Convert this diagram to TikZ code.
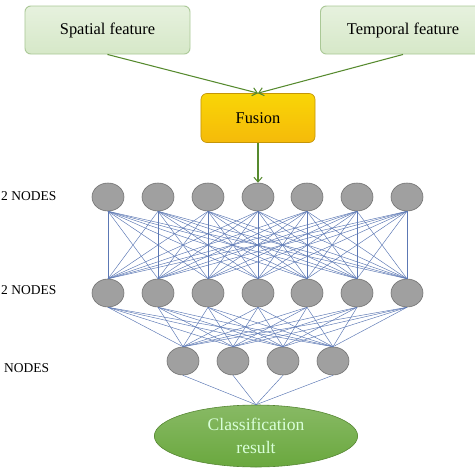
\documentclass[tikz,border=0pt]{standalone}
\usepackage{fontspec}
\setmainfont{Liberation Serif}
\usepackage{tikz}
\usetikzlibrary{shapes,arrows,arrows.meta,positioning}
\definecolor{leaf}{RGB}{214, 232, 200}
\definecolor{leafedge}{RGB}{170, 200, 150}
\definecolor{amber}{RGB}{245, 186, 10}
\definecolor{grass}{RGB}{106, 168, 62}
\definecolor{arrowgreen}{RGB}{86, 138, 46}
\definecolor{netblue}{RGB}{92, 120, 180}
\definecolor{neuron}{RGB}{160, 160, 160}
\tikzstyle{feature} = [rectangle, rounded corners=5pt, draw=leafedge, line width=0.8pt, top color=leaf!60, bottom color=leaf, text=black, text centered, font=\fontsize{14}{16}\selectfont, minimum width=4.95cm, minimum height=1.44cm]
\tikzstyle{fuse} = [rectangle, rounded corners=5pt, draw=amber!80!black, line width=0.6pt, top color=amber!60!yellow, bottom color=amber, text=black, text centered, font=\fontsize{14}{16}\selectfont, minimum width=3.42cm, minimum height=1.47cm]
\tikzstyle{unit} = [ellipse, draw=neuron!70!black, line width=0.5pt, fill=neuron, inner sep=0pt, minimum width=0.96cm, minimum height=0.84cm]
\tikzstyle{output} = [ellipse, draw=grass!80!black, line width=0.5pt, top color=grass!80, bottom color=grass, text=white!85!green, text centered, align=center, font=\fontsize{15}{19}\selectfont, minimum width=6.1cm, minimum height=1.86cm]
\tikzstyle{textonly} = [draw=none, fill=none, anchor=west, inner sep=0pt, font=\fontsize{11.5}{13}\selectfont]
\tikzstyle{tedge}  = [draw, line width=0.9pt, color=arrowgreen, -{Straight Barb[length=4pt,width=7pt]}]
\tikzstyle{link}  = [draw, line width=0.4pt, color=netblue]

\begin{document}
\begin{tikzpicture}[x=0.03cm, y=-0.03cm]
\useasboundingbox (0,0) rectangle (474,474);

% features ===============================
\node[feature] (spatial) at (107.5,30) {Spatial feature};
\node[feature] (temporal) at (403,30) {Temporal feature};
\node[fuse] (fusion) at (258,118) {Fusion};

% layers =================================
\foreach \i/\x in {1/108,2/158,3/208,4/258,5/307,6/357,7/407} {
  \node[unit] (a\i) at (\x,197) {};
  \node[unit] (b\i) at (\x,293) {};
}
\foreach \i/\x in {1/183,2/233,3/283,4/333}
  \node[unit] (c\i) at (\x,361) {};
\node[output] (result) at (256,436) {Classification\\result};

% labels
\node[textonly] (top) at (1,196) {2 NODES};
\node[textonly] (mid) at (1,290) {2 NODES};
\node[textonly] (low) at (4,368) {NODES};

% edges
\path[tedge] (spatial.south) -- (fusion.north);
\path[tedge] (temporal.south) -- (fusion.north);
\path[tedge] (fusion) -- (a4);
\foreach \i in {1,...,7}
  \foreach \j in {1,...,7}
    \path[link] (a\i.south) -- (b\j.north);
\foreach \i in {1,...,7}
  \foreach \j in {1,...,4}
    \path[link] (b\i.south) -- (c\j.north);
\foreach \j in {1,...,4}
  \path[link] (c\j.south) -- (result.north);

\end{tikzpicture}
\end{document}
